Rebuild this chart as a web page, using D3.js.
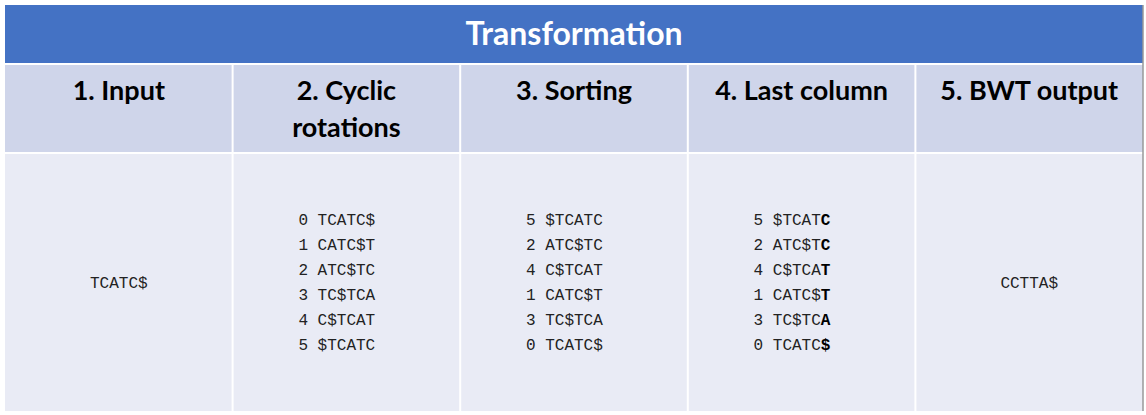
<!DOCTYPE html>
<html><head><meta charset="utf-8">
<script src="https://cdn.jsdelivr.net/npm/d3@7"></script>
<style>body{margin:0;background:#fff}</style>
</head><body><div id="chart"></div>
<script>
const title = "Transformation";
const headers = [["1. Input"], ["2. Cyclic", "rotations"], ["3. Sorting"], ["4. Last column"], ["5. BWT output"]];
const inputText = "TCATC$";
const rotIdx = [0, 1, 2, 3, 4, 5];
const rotations = ["TCATC$", "CATC$T", "ATC$TC", "TC$TCA", "C$TCAT", "$TCATC"];
const sortIdx = [5, 2, 4, 1, 3, 0];
const sorted = ["$TCATC", "ATC$TC", "C$TCAT", "CATC$T", "TC$TCA", "TCATC$"];
const outputText = "CCTTA$";

const W = 1146, H = 415;
const svg = d3.select("#chart").append("svg").attr("width", W).attr("height", H);

const x = d3.scaleBand().domain(d3.range(5)).range([5, 1143]).paddingInner(0);
const titleTop = 5, titleH = 58, headTop = 65, headBot = 152, bodyTop = 154, bodyBot = 411;

svg.append("rect").attr("x", 5).attr("y", titleTop).attr("width", 1138).attr("height", titleH).attr("fill", "#4472C4");
svg.append("text").attr("x", 574).attr("y", titleTop + titleH / 2 + 11).attr("text-anchor", "middle")
  .attr("font-family", "Lato, 'Open Sans', sans-serif").attr("font-weight", "bold").attr("font-size", 32)
  .attr("fill", "#fff").text(title);

headers.forEach((h, i) => {
  const x0 = x(i) + (i ? 1 : 0), w = x.bandwidth() - (i ? 1 : 0) - (i < 4 ? 1 : 0);
  svg.append("rect").attr("x", x0).attr("y", headTop).attr("width", w).attr("height", headBot - headTop).attr("fill", "#CFD5EA");
  svg.append("rect").attr("x", x0).attr("y", bodyTop).attr("width", w).attr("height", bodyBot - bodyTop).attr("fill", "#E9EBF5");
  h.forEach((line, j) => {
    svg.append("text").attr("x", x(i) + x.bandwidth() / 2).attr("y", 100 + j * 37).attr("text-anchor", "middle")
      .attr("font-family", "Lato, 'Open Sans', sans-serif").attr("font-weight", "bold").attr("font-size", 27)
      .attr("fill", "#000").text(line);
  });
});
svg.append("line").attr("x1", 1143).attr("x2", 1143).attr("y1", titleTop).attr("y2", bodyBot).attr("stroke", "#999").attr("stroke-width", 1.5);

const mono = "'Liberation Mono', 'DejaVu Sans Mono', monospace";
const y = d3.scalePoint().domain(d3.range(6)).range([225, 350]);

function single(col, t) {
  svg.append("text").attr("x", x(col) + x.bandwidth() / 2).attr("y", 288).attr("text-anchor", "middle")
    .attr("font-family", mono).attr("font-size", 16).attr("fill", "#222").text(t);
}
function list(col, idx, strs, boldLast) {
  const cx = x(col) + x.bandwidth() / 2 - 48;
  strs.forEach((s, k) => {
    const t = svg.append("text").attr("x", cx).attr("y", y(k)).attr("font-family", mono)
      .attr("font-size", 16).attr("fill", "#222").attr("xml:space", "preserve");
    if (boldLast) {
      t.append("tspan").text(idx[k] + " " + s.slice(0, -1));
      t.append("tspan").attr("font-weight", "bold").attr("fill", "#000").text(s.slice(-1));
    } else t.text(idx[k] + " " + s);
  });
}
single(0, inputText);
list(1, rotIdx, rotations, false);
list(2, sortIdx, sorted, false);
list(3, sortIdx, sorted, true);
single(4, outputText);
</script></body></html>
